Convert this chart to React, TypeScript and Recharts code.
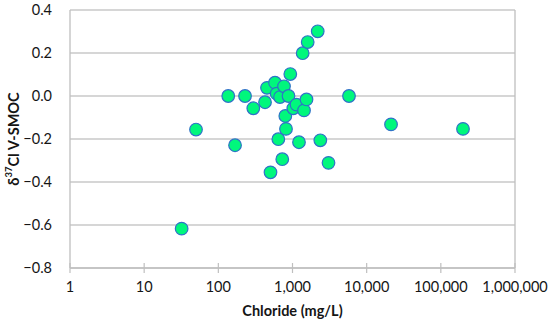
import React from "react";
import {
  CartesianGrid,
  ReferenceLine,
  Scatter,
  ScatterChart,
  XAxis,
  YAxis,
} from "recharts";

// chloride (mg/L) and δ37Cl (‰ V-SMOC)
const chloride = [
  32, 50, 136, 168, 229, 296, 426, 453, 505, 581, 612, 644, 678, 728, 768, 800,
  817, 883, 934, 1025, 1132, 1223, 1371, 1429, 1544, 1603, 2187, 2372, 3058,
  5778, 21300, 199000,
];
const delta37Cl = [
  -0.617, -0.156, 0.0, -0.229, 0.0, -0.057, -0.029, 0.038, -0.355, 0.062, 0.011,
  -0.201, -0.005, -0.294, 0.045, -0.093, -0.153, 0.0, 0.102, -0.057, -0.04,
  -0.215, 0.199, -0.067, -0.016, 0.251, 0.301, -0.206, -0.311, 0.0, -0.132,
  -0.153,
];

const xTicks = [1, 10, 100, 1000, 10000, 100000, 1000000];
const yTicks = [-0.8, -0.6, -0.4, -0.2, 0, 0.2, 0.4];

const points = chloride.map((c, i) => ({ x: c, y: delta37Cl[i] }));

const FONT = "Lato, 'Open Sans', sans-serif";
const AXIS = "#bfbfbf";
const TEXT = "#151515";
const TICK_SIZE = 5;
const TICK_MARGIN = 9;

const XTick = (props: any) => {
  const { x, y, payload } = props;
  const axisY = y - TICK_SIZE - TICK_MARGIN;
  return (
    <g>
      <line x1={x} x2={x} y1={axisY - 5} y2={axisY + 5} stroke={AXIS} strokeWidth={1.2} />
      <text
        x={x}
        y={y}
        dy="0.71em"
        textAnchor="middle"
        fill={TEXT}
        fontSize={14.5}
        fontFamily={FONT}
      >
        {payload.value.toLocaleString("en-US")}
      </text>
    </g>
  );
};

const YLabel = (props: any) => {
  const { viewBox } = props;
  const cx = 13;
  const cy = viewBox.y + viewBox.height / 2;
  return (
    <text
      x={cx}
      y={cy}
      transform={`rotate(-90 ${cx} ${cy})`}
      textAnchor="middle"
      dominantBaseline="central"
      fontSize={14.5}
      fontWeight="bold"
      fontFamily={FONT}
      fill={TEXT}
    >
      δ<tspan fontSize={9.5} dy={-5}>37</tspan>
      <tspan dy={5}>Cl V-SMOC</tspan>
    </text>
  );
};

const Dot = (props: any) => (
  <circle cx={props.cx} cy={props.cy} r={6.3} fill="#00f77c" stroke="#2f72c8" strokeWidth={1.2} />
);

export default function App() {
  return (
    <div style={{ position: "absolute", left: 0, top: 0, background: "#fff" }}>
      <ScatterChart
        width={550}
        height={323}
        margin={{ top: 10, right: 35, left: 0, bottom: 0 }}
      >
        <CartesianGrid vertical={false} stroke="#c8c8c8" strokeWidth={1.3} />
        <XAxis
          type="number"
          dataKey="x"
          scale="log"
          domain={[1, 1000000]}
          ticks={xTicks}
          allowDataOverflow
          height={55}
          axisLine={{ stroke: AXIS, strokeWidth: 1.3 }}
          tickLine={false}
          tickSize={TICK_SIZE}
          tickMargin={TICK_MARGIN}
          tick={<XTick />}
          interval={0}
          label={{
            value: "Chloride (mg/L)",
            position: "insideBottom",
            offset: 7,
            style: { fontFamily: FONT, fontSize: 14.5, fontWeight: "bold", fill: TEXT },
          }}
        />
        <YAxis
          type="number"
          dataKey="y"
          domain={[-0.8, 0.4]}
          ticks={yTicks}
          width={70}
          axisLine={{ stroke: AXIS, strokeWidth: 1.3 }}
          tickLine={false}
          tickMargin={12}
          tick={{ fill: TEXT, fontSize: 14.5, fontFamily: FONT }}
          tickFormatter={(v: number) => (v < 0 ? "−" : "") + Math.abs(v).toFixed(1)}
          interval={0}
          label={<YLabel />}
        />
        <ReferenceLine x={1000000} stroke={AXIS} strokeWidth={1.3} />
        <Scatter data={points} shape={<Dot />} isAnimationActive={false} />
      </ScatterChart>
    </div>
  );
}
